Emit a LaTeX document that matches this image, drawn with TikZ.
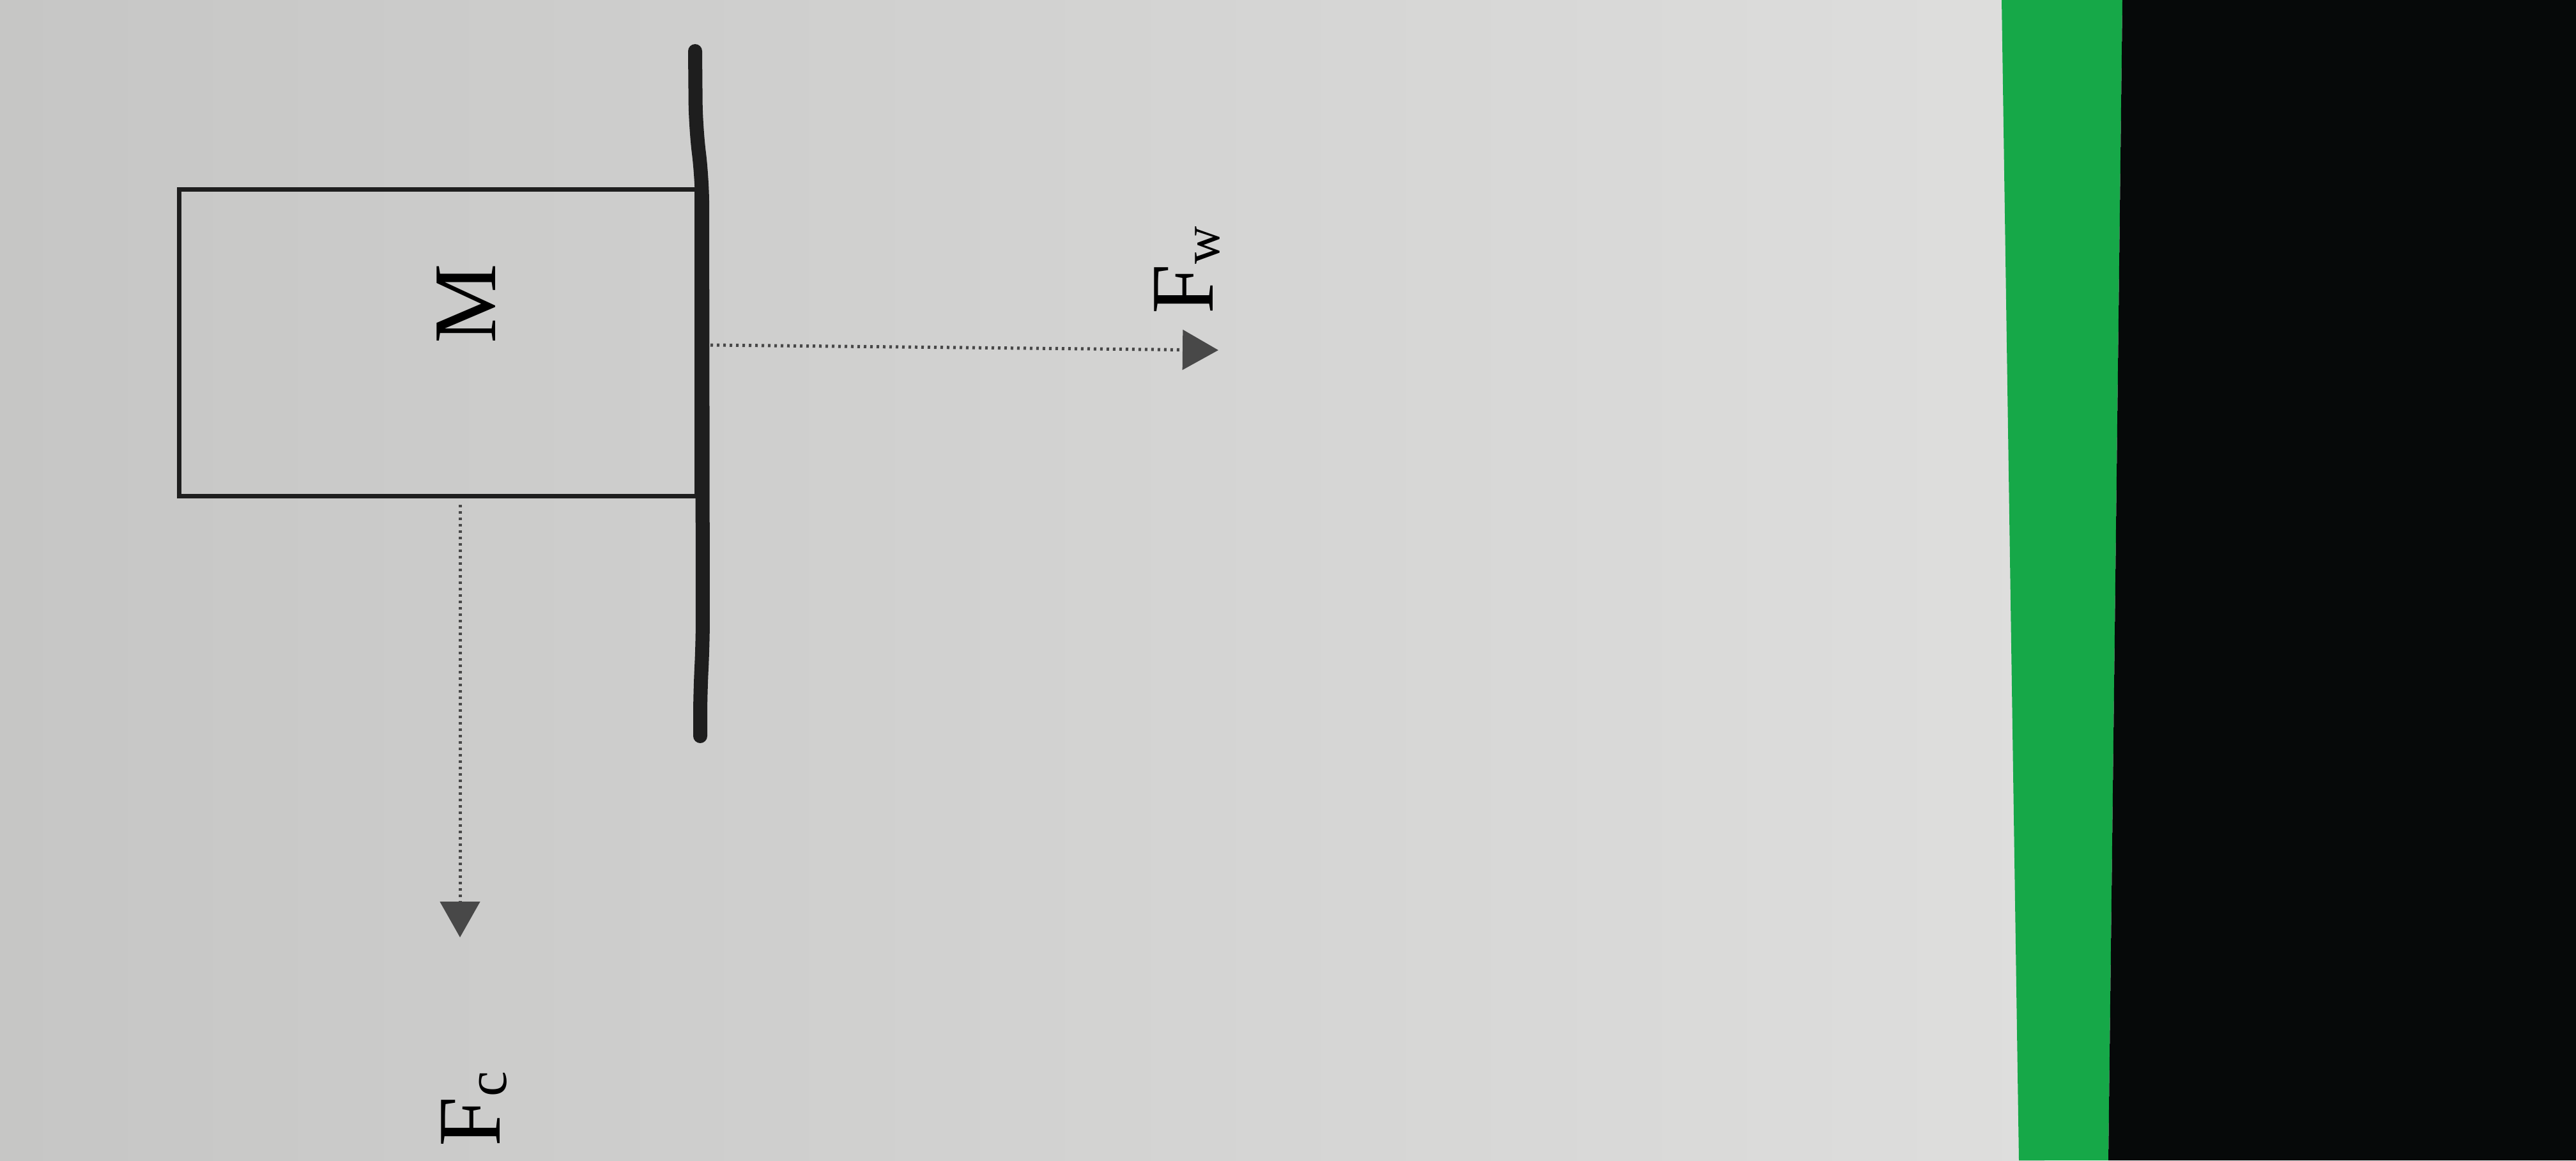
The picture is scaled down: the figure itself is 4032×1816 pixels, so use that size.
\documentclass[tikz,border=0pt]{standalone}
\usepackage{fontspec}
\setmainfont{Liberation Serif}
\usetikzlibrary{arrows.meta}
\definecolor{paperL}{RGB}{198,198,197}
\definecolor{paperR}{RGB}{222,222,221}
\definecolor{tape}{RGB}{22,168,72}
\definecolor{desk}{RGB}{6,9,9}
\definecolor{ink}{RGB}{30,30,30}
\definecolor{dotink}{RGB}{72,72,72}
\tikzset{
  massbox/.style={draw=ink,line width=7pt,inner sep=0pt},
  surface/.style={draw=ink,line width=22pt,line cap=round,line join=round,rounded corners=40pt},
  force/.style={draw=dotink,line width=5pt,dash pattern=on 4pt off 6pt,
    -{Triangle[length=56pt,width=62pt,fill=dotink]}},
  lbl/.style={rotate=90,inner sep=0pt,text=black,font=\fontsize{140}{160}\selectfont},
}
\begin{document}
\begin{tikzpicture}[x=1pt,y=-1pt]
\useasboundingbox (0,0) rectangle (4032,1816);
% paper, tape, desk
\shade[left color=paperL,right color=paperR] (0,0) rectangle (3200,1816);
\fill[tape] (3133,0) -- (3322,0) -- (3300,1816) -- (3160,1816) -- cycle;
\fill[desk] (3322,0) -- (4032,0) -- (4032,1816) -- (3300,1816) -- cycle;
% mass
\node[massbox,minimum width=810pt,minimum height=480pt] (mass) at (685,536) {};
\node[lbl,anchor=base] (mlabel) at (775,475) {M};
% surface
\coordinate (s1) at (1088,80);
\coordinate (s2) at (1089,200);
\coordinate (s3) at (1099,280);
\coordinate (s4) at (1100,1010);
\coordinate (s5) at (1096,1080);
\coordinate (s6) at (1096,1152);
\draw[surface] (s1) -- (s2) -- (s3) -- (s4) -- (s5) -- (s6);
% forces
\coordinate (fwstart) at (1112,540);
\coordinate (fwtip) at (1907,548);
\draw[force] (fwstart) -- (fwtip);
\coordinate (fcstart) at (720,790);
\coordinate (fctip) at (720,1467);
\draw[force] (fcstart) -- (fctip);
\node[lbl,anchor=base west] (fw) at (1898,492) {F\raisebox{-10pt}{\fontsize{82}{90}\selectfont w}};
\node[lbl,anchor=base west] (fc) at (782,1795) {F\raisebox{-10pt}{\fontsize{90}{100}\selectfont c}};
\end{tikzpicture}
\end{document}
